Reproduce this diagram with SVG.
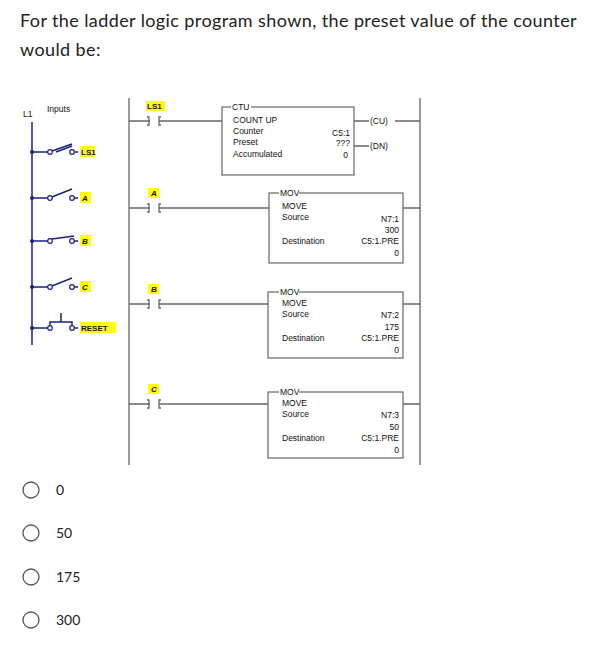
<svg xmlns="http://www.w3.org/2000/svg" width="605" height="645" viewBox="0 0 605 645">
<style>
.q{font-family:"Lato","Liberation Sans",sans-serif;font-size:18px;letter-spacing:0.4px;fill:#222}
.s{font-family:"Liberation Sans",Arial,sans-serif;font-size:8.5px;fill:#111}
.l{font-family:"Liberation Sans",Arial,sans-serif;font-size:8px;font-weight:bold;fill:#111}
.g{stroke:#666;stroke-width:1.3;fill:none}
.b{stroke:#1a237e;stroke-width:1.5;fill:none}
.bx{stroke:#666;stroke-width:1.2;fill:#fff}
.hl{fill:#ffff00}
.o{fill:#fff;stroke:#1a237e;stroke-width:1.2}
.rc{fill:#fff;stroke:#555;stroke-width:1.3}
</style>
<rect width="605" height="645" fill="#fff"/>
<text class="q" x="20" y="27">For the ladder logic program shown, the preset value of the counter</text>
<text class="q" x="20" y="56">would be:</text>

<g id="connectors">
<line class="g" x1="129" y1="98" x2="129" y2="465"/>
<line class="g" x1="420" y1="98" x2="420" y2="465"/>
<path class="g" d="M129 121H150M147 117h2v8h-2M161 117h-2v8h2M159 121H222"/>
<path class="g" d="M354 121h15M395 121h25M354 146h15"/>
<path class="g" d="M129 208H150M147 204h2v8h-2M161 204h-2v8h2M159 208H269M403 208h17"/>
<path class="g" d="M129 304H150M147 300h2v8h-2M161 300h-2v8h2M159 304H268M403 304h17"/>
<path class="g" d="M129 404H150M147 400h2v8h-2M161 400h-2v8h2M159 404H268M403 404h17"/>
<line class="b" x1="32" y1="122" x2="32" y2="345"/>
</g>

<g id="inputs">
<text class="s" x="23" y="117" font-size="8">L1</text>
<text class="s" x="47" y="112">Inputs</text>
<g id="sw-ls1"><circle cx="32" cy="152" r="2" fill="#1a237e"/><path class="b" d="M32 152h18M52 151l20-7M56 152l16-6M72 152h6"/><circle class="o" cx="50" cy="152" r="2.3"/><circle class="o" cx="72" cy="152" r="2.3"/><rect class="hl" x="80" y="146" width="15" height="11"/><text class="l" x="81" y="155">LS1</text></g>
<g id="sw-a"><circle cx="32" cy="198" r="2" fill="#1a237e"/><path class="b" d="M32 198h18M52 197l20-8M72 198h6"/><circle class="o" cx="50" cy="198" r="2.3"/><circle class="o" cx="72" cy="198" r="2.3"/><rect class="hl" x="80" y="192" width="11" height="11"/><text class="l" x="82" y="201" font-style="italic">A</text></g>
<g id="sw-b"><circle cx="32" cy="241" r="2" fill="#1a237e"/><path class="b" d="M32 241h18M52 239l22-3M72 241h6"/><circle class="o" cx="50" cy="241" r="2.3"/><circle class="o" cx="72" cy="241" r="2.3"/><rect class="hl" x="80" y="235" width="11" height="11"/><text class="l" x="82" y="244" font-style="italic">B</text></g>
<g id="sw-c"><circle cx="32" cy="287" r="2" fill="#1a237e"/><path class="b" d="M32 287h18M52 286l20-8M72 287h6"/><circle class="o" cx="50" cy="287" r="2.3"/><circle class="o" cx="72" cy="287" r="2.3"/><rect class="hl" x="80" y="281" width="11" height="11"/><text class="l" x="82" y="290" font-style="italic">C</text></g>
<g id="sw-reset"><circle cx="32" cy="328" r="2" fill="#1a237e"/><path class="b" d="M32 328h18M50 325v-3h22v3M61 322v-9M72 328h6"/><circle class="o" cx="50" cy="328" r="2.3"/><circle class="o" cx="72" cy="328" r="2.3"/><rect class="hl" x="80" y="322" width="36" height="11"/><text class="l" x="81" y="331">RESET</text></g>
</g>

<g id="contacts">
<rect class="hl" x="146" y="101" width="19" height="10"/><text class="l" x="147" y="109">LS1</text>
<rect class="hl" x="148" y="188" width="11" height="10"/><text class="l" x="151" y="196" font-style="italic">A</text>
<rect class="hl" x="148" y="284" width="11" height="10"/><text class="l" x="151" y="292" font-style="italic">B</text>
<rect class="hl" x="148" y="384" width="11" height="10"/><text class="l" x="151" y="392" font-style="italic">C</text>
</g>

<g id="ctu">
<rect class="bx" x="222" y="107" width="132" height="68"/>
<rect x="231" y="103" width="20" height="8" fill="#fff"/>
<text class="s" x="232" y="110">CTU</text>
<text class="s" x="233" y="123">COUNT UP</text>
<text class="s" x="233" y="134">Counter</text>
<text class="s" x="233" y="145">Preset</text>
<text class="s" x="233" y="157">Accumulated</text>
<text class="s" x="350" y="136" text-anchor="end">C5:1</text>
<text class="s" x="350" y="146" text-anchor="end">???</text>
<text class="s" x="348" y="158" text-anchor="end">0</text>
<text class="s" x="370" y="124">(CU)</text>
<text class="s" x="370" y="149">(DN)</text>
</g>

<g id="mov1">
<rect class="bx" x="269" y="193" width="134" height="70"/>
<rect x="279" y="189" width="20" height="8" fill="#fff"/>
<text class="s" x="280" y="196">MOV</text>
<text class="s" x="282" y="209">MOVE</text>
<text class="s" x="282" y="220">Source</text>
<text class="s" x="282" y="244">Destination</text>
<text class="s" x="399" y="222" text-anchor="end">N7:1</text>
<text class="s" x="399" y="233" text-anchor="end">300</text>
<text class="s" x="399" y="244" text-anchor="end">C5:1.PRE</text>
<text class="s" x="399" y="256" text-anchor="end">0</text>
</g>
<g id="mov2">
<rect class="bx" x="268" y="292" width="135" height="66"/>
<rect x="279" y="288" width="20" height="8" fill="#fff"/>
<text class="s" x="280" y="295">MOV</text>
<text class="s" x="282" y="306">MOVE</text>
<text class="s" x="282" y="317">Source</text>
<text class="s" x="282" y="341">Destination</text>
<text class="s" x="399" y="318" text-anchor="end">N7:2</text>
<text class="s" x="399" y="330" text-anchor="end">175</text>
<text class="s" x="399" y="341" text-anchor="end">C5:1.PRE</text>
<text class="s" x="399" y="353" text-anchor="end">0</text>
</g>
<g id="mov3">
<rect class="bx" x="268" y="392" width="135" height="66"/>
<rect x="279" y="388" width="20" height="8" fill="#fff"/>
<text class="s" x="280" y="395">MOV</text>
<text class="s" x="282" y="406">MOVE</text>
<text class="s" x="282" y="417">Source</text>
<text class="s" x="282" y="441">Destination</text>
<text class="s" x="399" y="418" text-anchor="end">N7:3</text>
<text class="s" x="399" y="430" text-anchor="end">50</text>
<text class="s" x="399" y="441" text-anchor="end">C5:1.PRE</text>
<text class="s" x="399" y="453" text-anchor="end">0</text>
</g>

<g id="options" font-family="Lato,'Liberation Sans',sans-serif" font-size="14" fill="#222">
<circle class="rc" cx="31" cy="490" r="8"/><text x="56" y="495">0</text>
<circle class="rc" cx="31" cy="533" r="8"/><text x="56" y="538">50</text>
<circle class="rc" cx="31" cy="577" r="8"/><text x="56" y="582">175</text>
<circle class="rc" cx="31" cy="620" r="8"/><text x="56" y="625">300</text>
</g>
</svg>
